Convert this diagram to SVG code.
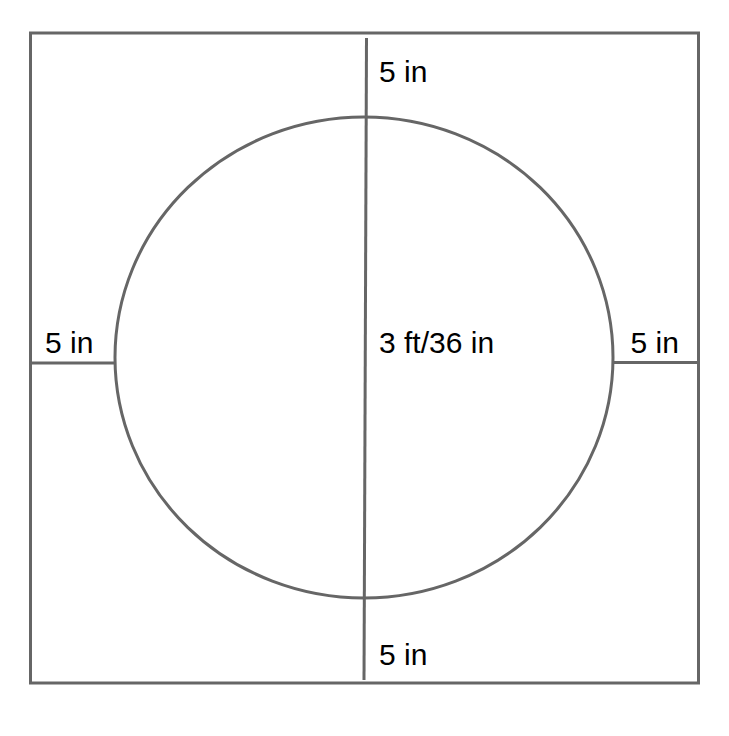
<svg xmlns="http://www.w3.org/2000/svg" width="729" height="736" viewBox="0 0 729 736">
<style>
.ln{fill:none;stroke:#666;stroke-width:3}
.lb{font-family:"Liberation Sans",Arial,sans-serif;font-size:30px;fill:#000}
</style>
<rect width="729" height="736" fill="#fff"/>
<g id="frame"><rect class="ln" x="30.5" y="33" width="668" height="650"/></g>
<g id="circle"><ellipse class="ln" cx="364" cy="357.5" rx="249" ry="240.5"/></g>
<g id="connectors">
<line class="ln" x1="366.5" y1="38" x2="364" y2="680"/>
<line class="ln" x1="30.5" y1="363" x2="115" y2="363"/>
<line class="ln" x1="613" y1="362.5" x2="698.5" y2="362.5"/>
</g>
<g id="labels">
<text class="lb" x="379" y="82">5 in</text>
<text class="lb" x="379" y="353">3 ft/36 in</text>
<text class="lb" x="45" y="353">5 in</text>
<text class="lb" x="630.5" y="352.5">5 in</text>
<text class="lb" x="379" y="665">5 in</text>
</g>
</svg>
